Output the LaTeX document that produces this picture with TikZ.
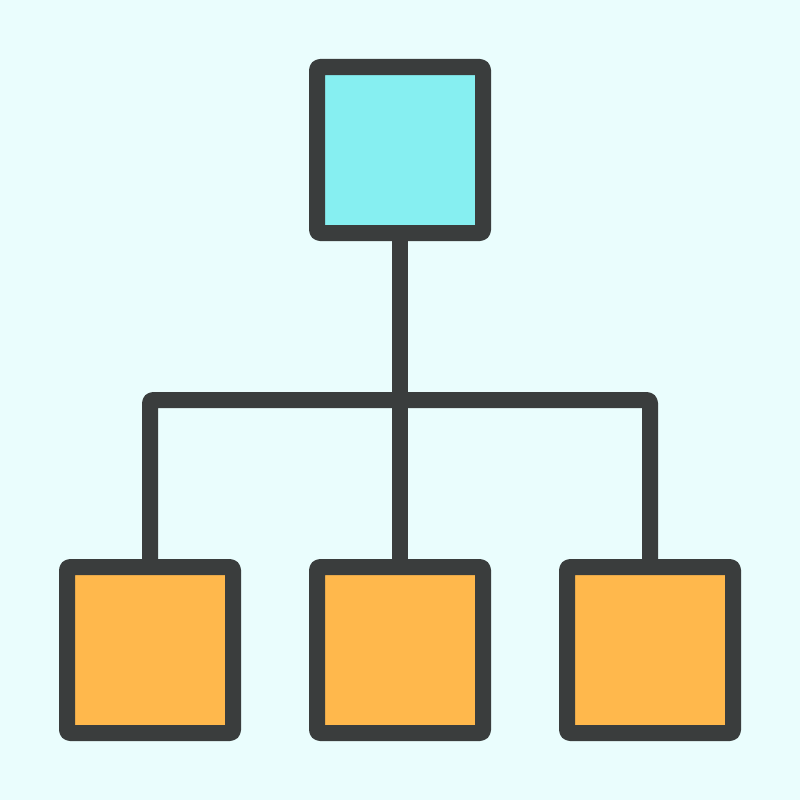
\documentclass[tikz,border=0pt]{standalone}
\definecolor{bgc}{HTML}{EAFDFD}
\definecolor{dark}{HTML}{3A3D3D}
\definecolor{topfill}{HTML}{86EFF1}
\definecolor{botfill}{HTML}{FFB84C}
\begin{document}
\begin{tikzpicture}[x=1pt,y=-1pt,
  box/.style={draw=dark,line width=16pt,rectangle,minimum size=166pt,inner sep=0pt,rounded corners=3pt,line join=round},
  link/.style={draw=dark,line width=16pt,line join=round,rounded corners=3pt}]
\fill[bgc] (0,0) rectangle (800,800);
\useasboundingbox (0,0) rectangle (800,800);
\node[box,fill=topfill] (top) at (400,150) {};
\node[box,fill=botfill] (b1) at (150,650) {};
\node[box,fill=botfill] (b2) at (400,650) {};
\node[box,fill=botfill] (b3) at (650,650) {};
\coordinate (hub) at (400,400);
\coordinate (hl) at (150,400);
\coordinate (hr) at (650,400);
\draw[link] (top.south) -- (hub) -- (b2.north);
\draw[link] (b1.north) -- (hl) -- (hr) -- (b3.north);
\end{tikzpicture}
\end{document}
